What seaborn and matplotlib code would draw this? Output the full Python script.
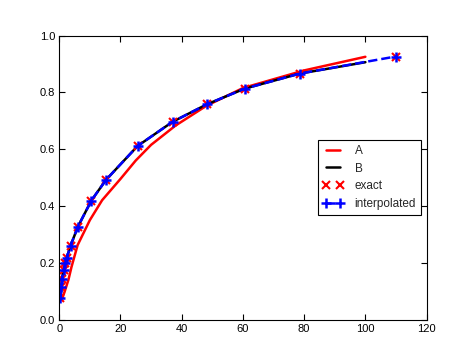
import numpy as np
import matplotlib
matplotlib.use("Agg")
import matplotlib.pyplot as plt
import seaborn as sns

# curve A (red)
a_x = [1, 1.7, 3, 4, 6, 10, 14, 20, 25, 30, 38, 48, 60, 80, 100]
a_y = [0.075, 0.096, 0.14, 0.185, 0.262, 0.35, 0.42, 0.495, 0.56, 0.615, 0.683, 0.752, 0.815, 0.877, 0.925]

# curve B (black)
b_x = [0.4, 0.7, 0.9, 1.4, 2.0, 2.4, 3.7, 6.1, 10.5, 15.3, 25.6, 37.0, 48.3, 60.6, 78.6, 100]
b_y = [0.074, 0.113, 0.144, 0.173, 0.198, 0.215, 0.26, 0.327, 0.419, 0.492, 0.611, 0.696, 0.758, 0.813, 0.866, 0.906]

# sample points: exact and interpolated
pts_x = [0.4, 0.7, 0.9, 1.4, 2.0, 2.4, 3.7, 6.1, 10.5, 15.3, 25.6, 37.0, 48.3, 60.6, 78.6, 109.9]
exact_y = [0.074, 0.113, 0.144, 0.173, 0.198, 0.215, 0.26, 0.327, 0.419, 0.492, 0.611, 0.696, 0.758, 0.813, 0.866, 0.926]
interp_y = [0.074, 0.113, 0.144, 0.173, 0.198, 0.215, 0.26, 0.327, 0.419, 0.492, 0.611, 0.696, 0.758, 0.813, 0.866, 0.926]

sns.set_style("ticks")
plt.rcParams["font.family"] = ["Liberation Sans", "DejaVu Sans"]
plt.rcParams["xtick.direction"] = "in"
plt.rcParams["ytick.direction"] = "in"
plt.rcParams["xtick.top"] = True
plt.rcParams["ytick.right"] = True

fig = plt.figure(figsize=(4.74, 3.55), dpi=100)
ax = fig.add_axes([0.125, 0.1, 0.775, 0.8])

sns.lineplot(x=a_x, y=a_y, ax=ax, color="red", lw=1.8, label="A", estimator=None, sort=False)
sns.lineplot(x=b_x, y=b_y, ax=ax, color="black", lw=1.8, label="B", estimator=None, sort=False)
sns.lineplot(x=pts_x, y=exact_y, ax=ax, color="red", linestyle="", marker="x",
             markersize=6, markeredgewidth=1.5, markeredgecolor="red",
             label="exact", estimator=None, sort=False)
sns.lineplot(x=pts_x, y=interp_y, ax=ax, color="blue", linestyle="--", lw=1.8, marker="+",
             markersize=7, markeredgewidth=1.8, markeredgecolor="blue", dashes=(2.8, 1.7),
             label="interpolated", estimator=None, sort=False)

ax.set_xlim(0, 120)
ax.set_ylim(0, 1.0)
ax.set_xticks(np.arange(0, 121, 20))
ax.set_yticks(np.arange(0, 1.01, 0.2))
ax.set_yticklabels(["0.0", "0.2", "0.4", "0.6", "0.8", "1.0"])
ax.tick_params(labelsize=8, length=4, width=0.8, colors="black", pad=3)
for s in ax.spines.values():
    s.set_visible(True)
    s.set_color("black")
    s.set_linewidth(0.8)

leg = ax.legend(loc="center right", numpoints=2, fontsize=8.5, fancybox=False,
                edgecolor="black", framealpha=1, handlelength=1.8, borderpad=0.4,
                labelspacing=0.5, handletextpad=0.9)
leg.get_frame().set_linewidth(0.8)

fig.savefig("out.png", dpi=100)
